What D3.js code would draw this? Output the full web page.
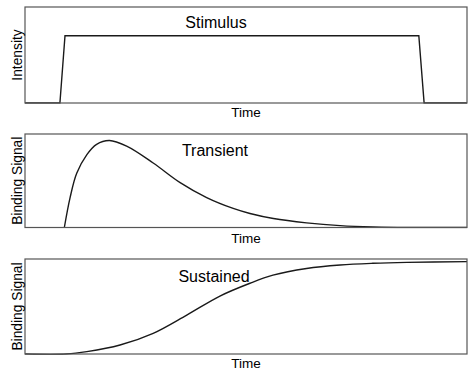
<!DOCTYPE html>
<html>
<head>
<meta charset="utf-8">
<script src="https://cdn.jsdelivr.net/npm/d3@7"></script>
<style>
  body { margin: 0; background: #fff; }
  text { font-family: "Liberation Sans", Arial, sans-serif; fill: #000; }
</style>
</head>
<body>
<div id="chart"></div>
<script>
// values, time in % of window, signal 0..1
var stimulusTime = [0, 7.9, 9.05, 89.1, 90.3, 100];
var stimulusValue = [0, 0, 0.70, 0.70, 0, 0];

var transientTime = [8.9, 10.2, 11.7, 14.0, 16.2, 19.1, 23.0, 29.0, 35.1, 41.1, 47.1, 50.9, 56.2, 63.7, 71.3, 78.7, 89.4, 100];
var transientValue = [0, 0.32, 0.58, 0.78, 0.89, 0.93, 0.87, 0.69, 0.48, 0.32, 0.204, 0.15, 0.096, 0.05, 0.02, 0.006, 0, 0];

var sustainedTime = [0, 9.4, 14.0, 21.5, 29.0, 36.6, 44.1, 50.9, 56.1, 63.7, 71.3, 78.7, 86.4, 100];
var sustainedValue = [0, 0, 0.025, 0.095, 0.218, 0.41, 0.61, 0.745, 0.83, 0.90, 0.937, 0.955, 0.965, 0.972];

var panelTitles = ["Stimulus", "Transient", "Sustained"];
var yTitles = ["Intensity", "Binding Signal", "Binding Signal"];
var xTitle = "Time";

var width = 474, height = 373;
var left = 25, right = 467;
var tops = [7, 134, 259];
var bottoms = [103, 227.5, 354];
var titleX = [216, 215, 214];
var titleY = [28, 156, 282];
var timeY = [117, 243, 368];

var svg = d3.select("#chart").append("svg")
  .attr("width", width)
  .attr("height", height);

var x = d3.scaleLinear().domain([0, 100]).range([left, right]);

var series = [
  {t: stimulusTime, v: stimulusValue, curve: d3.curveLinear},
  {t: transientTime, v: transientValue, curve: d3.curveCatmullRom.alpha(0.5)},
  {t: sustainedTime, v: sustainedValue, curve: d3.curveCatmullRom.alpha(0.5)}
];

series.forEach(function(s, i) {
  var y = d3.scaleLinear().domain([0, 1]).range([bottoms[i], tops[i]]);
  var g = svg.append("g");

  svg.append("clipPath")
    .attr("id", "clip" + i)
    .append("rect")
    .attr("x", left)
    .attr("y", tops[i])
    .attr("width", right - left)
    .attr("height", bottoms[i] - tops[i] + 0.7);

  var line = d3.line()
    .x(function(d, j) { return x(s.t[j]); })
    .y(function(d) { return y(d); })
    .curve(s.curve);

  g.append("path")
    .attr("d", line(s.v))
    .attr("clip-path", "url(#clip" + i + ")")
    .attr("fill", "none")
    .attr("stroke", "#1a1a1a")
    .attr("stroke-width", 1.4);

  g.append("rect")
    .attr("x", left)
    .attr("y", tops[i])
    .attr("width", right - left)
    .attr("height", bottoms[i] - tops[i])
    .attr("fill", "none")
    .attr("stroke", "#555")
    .attr("stroke-width", 1.2);

  g.append("text")
    .attr("x", titleX[i])
    .attr("y", titleY[i])
    .attr("text-anchor", "middle")
    .style("font-size", "16px")
    .text(panelTitles[i]);

  g.append("text")
    .attr("x", 246)
    .attr("y", timeY[i])
    .attr("text-anchor", "middle")
    .style("font-size", "13.5px")
    .text(xTitle);

  var cy = (tops[i] + bottoms[i]) / 2;
  g.append("text")
    .attr("transform", "translate(21.5," + cy + ") rotate(-90)")
    .attr("text-anchor", "middle")
    .style("font-size", "13.8px")
    .text(yTitles[i]);
});
</script>
</body>
</html>
